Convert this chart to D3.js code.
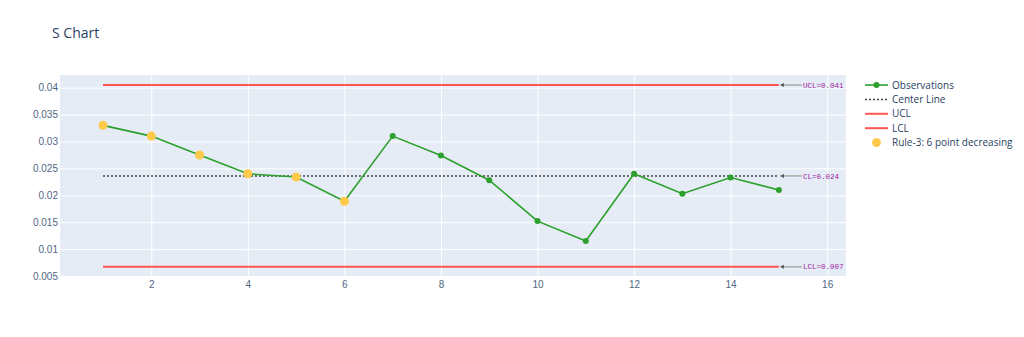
<!DOCTYPE html>
<html>
<head>
<meta charset="utf-8">
<script src="https://cdn.jsdelivr.net/npm/d3@7"></script>
<style>
  body { margin: 0; background: #fff; }
  svg { font-family: "Open Sans", "DejaVu Sans", sans-serif; }
  .axis text { fill: #506784; font-size: 10px; }
  .axis .domain { display: none; }
  .axis line { stroke: #fff; }
</style>
</head>
<body>
<svg width="1024" height="337"></svg>
<script>
// **** data ****
var samples = [1, 2, 3, 4, 5, 6, 7, 8, 9, 10, 11, 12, 13, 14, 15];
var stdDevs = [0.0330, 0.0310, 0.0275, 0.0240, 0.0234, 0.0189, 0.0310, 0.0274,
               0.0228, 0.0152, 0.0115, 0.0240, 0.0203, 0.0233, 0.0210];
var centerLine = 0.0236;
var ucl = 0.0405;
var lcl = 0.0067;
var rule3Samples = [1, 2, 3, 4, 5, 6];
var xTicks = [2, 4, 6, 8, 10, 12, 14, 16];
var yTicks = [0.005, 0.01, 0.015, 0.02, 0.025, 0.03, 0.035, 0.04];
var legendNames = ["Observations", "Center Line", "UCL", "LCL", "Rule-3: 6 point decreasing"];

// **** scales, axes ****
var plotLeft = 60, plotRight = 846, plotTop = 75, plotBottom = 276;

var xScale = d3.scaleLinear().domain([0.109, 16.39]).range([plotLeft, plotRight]);
var yScale = d3.scaleLinear().domain([0.005, 0.04236]).range([plotBottom, plotTop]);

var svg = d3.select('svg');

svg.append('rect')
    .attr('x', plotLeft).attr('y', plotTop)
    .attr('width', plotRight - plotLeft).attr('height', plotBottom - plotTop)
    .attr('fill', '#e5ecf6');

svg.append('g').attr('class', 'x axis')
    .attr('transform', `translate(0,${plotBottom})`)
    .call(d3.axisBottom(xScale).tickValues(xTicks).tickSize(-(plotBottom - plotTop)).tickPadding(5).tickFormat(d => d));

svg.append('g').attr('class', 'y axis')
    .attr('transform', `translate(${plotLeft},0)`)
    .call(d3.axisLeft(yScale).tickValues(yTicks).tickSize(-(plotRight - plotLeft)).tickPadding(2).tickFormat(d => +d.toFixed(3)));

svg.append("text")
    .attr("x", 52)
    .attr("y", 38)
    .style("font-size", "14px")
    .style("fill", "#2a3f5f")
    .text("S Chart");

// **** limit lines ****
var limits = [
    {v: centerLine, color: "#444", dash: "2,2", width: 1.5, label: "CL"},
    {v: ucl, color: "#ff5555", dash: null, width: 2, label: "UCL"},
    {v: lcl, color: "#ff5555", dash: null, width: 2, label: "LCL"}
];

limits.forEach(function(l) {
    svg.append("line")
        .attr("x1", xScale(samples[0])).attr("x2", xScale(samples[samples.length - 1]))
        .attr("y1", yScale(l.v)).attr("y2", yScale(l.v))
        .attr("stroke", l.color)
        .attr("stroke-width", l.width)
        .attr("stroke-dasharray", l.dash);
});

// observations
var line = d3.line().x((d, i) => xScale(samples[i])).y(d => yScale(d));
svg.append("path")
    .datum(stdDevs)
    .attr("d", line)
    .attr("fill", "none")
    .attr("stroke", "#2ca02c")
    .attr("stroke-width", 1.6);

svg.selectAll(".obs")
    .data(stdDevs)
    .enter()
    .append("circle")
    .attr("class", "obs")
    .attr("cx", (d, i) => xScale(samples[i]))
    .attr("cy", d => yScale(d))
    .attr("r", 3)
    .attr("fill", "#2ca02c");

svg.selectAll(".rule3")
    .data(rule3Samples)
    .enter()
    .append("circle")
    .attr("class", "rule3")
    .attr("cx", d => xScale(d))
    .attr("cy", d => yScale(stdDevs[samples.indexOf(d)]))
    .attr("r", 4.5)
    .attr("fill", "#ffc94a");

// **** annotations ****
limits.forEach(function(l) {
    var px = xScale(samples[samples.length - 1]), py = yScale(l.v);
    svg.append("line")
        .attr("x1", px + 3).attr("x2", px + 23)
        .attr("y1", py).attr("y2", py)
        .attr("stroke", "#aaa")
        .attr("stroke-width", 1.5);
    svg.append("path")
        .attr("d", `M${px + 1},${py} L${px + 5},${py - 2} L${px + 5},${py + 2} Z`)
        .attr("fill", "#555");
    svg.append("text")
        .attr("x", px + 24)
        .attr("y", py)
        .attr("dy", "0.35em")
        .style("font-family", "'Liberation Mono', 'DejaVu Sans Mono', monospace")
        .style("font-size", "7.5px")
        .style("fill", "#a020a0")
        .text(l.label + "=" + d3.format(".3f")(l.v));
});

// **** legend ****
var legend = svg.selectAll(".legend")
    .data(legendNames)
    .enter()
    .append("g")
    .attr("class", "legend")
    .attr("transform", (d, i) => `translate(865,${85 + i * 14.4})`);

legend.each(function(d, i) {
    var g = d3.select(this);
    if (i === 0) {
        g.append("line").attr("x1", 0).attr("x2", 23).attr("stroke", "#2ca02c").attr("stroke-width", 1.6);
        g.append("circle").attr("cx", 11.5).attr("r", 3).attr("fill", "#2ca02c");
    } else if (i === 1) {
        g.append("line").attr("x1", 0).attr("x2", 23).attr("stroke", "#444").attr("stroke-width", 1.5).attr("stroke-dasharray", "2,2");
    } else if (i < 4) {
        g.append("line").attr("x1", 0).attr("x2", 23).attr("stroke", "#ff5555").attr("stroke-width", 2);
    } else {
        g.append("circle").attr("cx", 11.5).attr("r", 4.5).attr("fill", "#ffc94a");
    }
    g.append("text")
        .attr("x", 27)
        .attr("dy", "0.35em")
        .style("font-size", "10px")
        .style("fill", "#2a3f5f")
        .text(d);
});
</script>
</body>
</html>
